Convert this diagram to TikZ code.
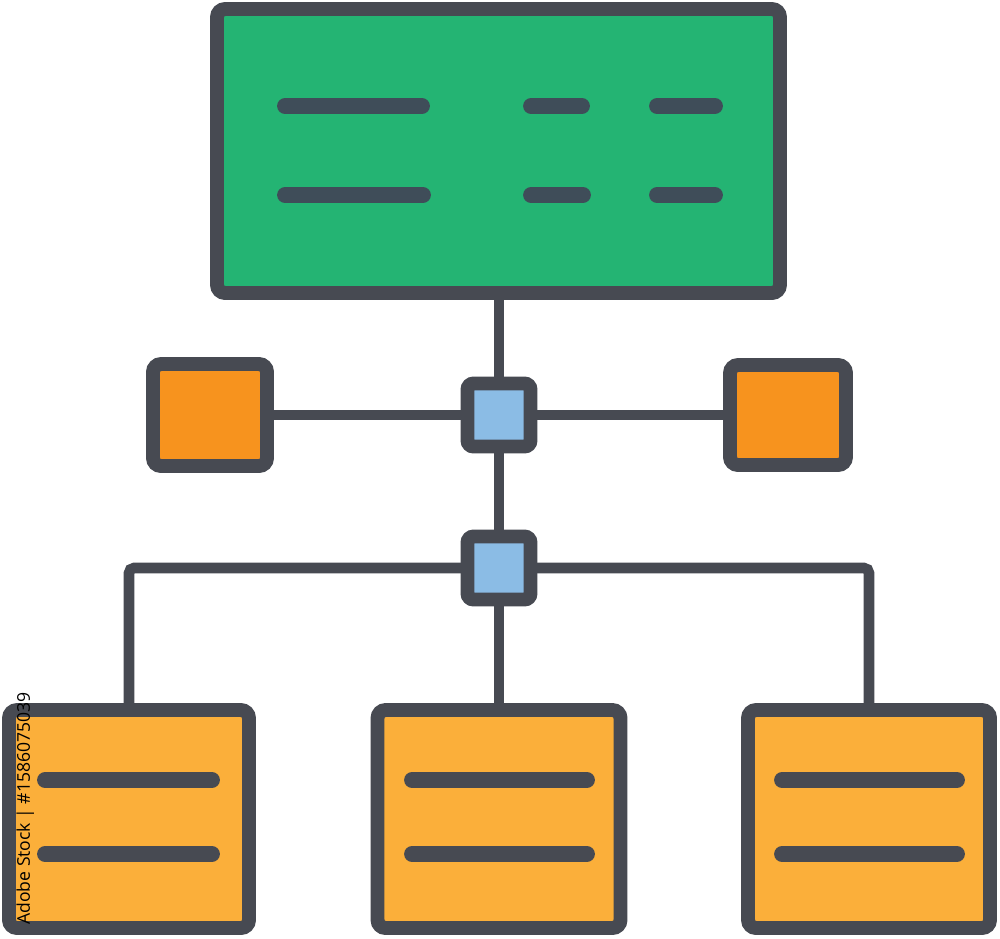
\documentclass[tikz,border=0pt]{standalone}
\usepackage{fontspec}
\newfontfamily\idfont{Open Sans}
\usetikzlibrary{backgrounds}
\definecolor{edge}{HTML}{474A52}
\definecolor{greenfill}{HTML}{24B473}
\definecolor{bluefill}{HTML}{8BBCE5}
\definecolor{orangefill}{HTML}{F7931E}
\definecolor{yellowfill}{HTML}{FBAF3A}
\definecolor{bar}{HTML}{3F4D59}
\tikzset{
  box/.style={draw=edge, line width=7.9pt, rounded corners=0.16cm, inner sep=0pt, outer sep=0pt},
  mainbox/.style={box, fill=greenfill, minimum width=11.26cm, minimum height=5.68cm},
  hubbox/.style={box, fill=bluefill, minimum width=1.26cm, minimum height=1.26cm, rounded corners=0.12cm},
  sidebox/.style={box, fill=orangefill, minimum height=2.04cm},
  leafbox/.style={box, fill=yellowfill, minimum height=4.36cm},
  link/.style={draw=edge, line width=6pt},
  barline/.style={draw=bar, line width=9pt, line cap=round},
  leafbar/.style={draw=edge, line width=9pt, line cap=round}
}
\begin{document}
\begin{tikzpicture}[x=0.02cm, y=-0.02cm]
\useasboundingbox (0,0) rectangle (1000,938);
\node[mainbox] (main) at (498.5,151) {};
\node[hubbox] (hubA) at (499,415) {};
\node[hubbox] (hubB) at (499,568) {};
\node[sidebox, minimum width=2.28cm] (sideL) at (210,415) {};
\node[sidebox, minimum width=2.32cm, minimum height=2.0cm] (sideR) at (788,415) {};
\node[leafbox, minimum width=4.8cm] (leafL) at (129,819) {};
\node[leafbox, minimum width=4.86cm] (leafM) at (499,819) {};
\node[leafbox, minimum width=4.84cm] (leafR) at (869,819) {};
\begin{scope}[on background layer]
\draw[link] (hubA.north |- main.south) -- (hubA.north);
\draw[link] (sideL.east) -- (hubA.west);
\draw[link] (hubA.east) -- (sideR.west);
\draw[link] (hubA.south) -- (hubB.north);
\draw[link, rounded corners=0.1cm] (hubB.west) -| (leafL.north);
\draw[link, rounded corners=0.1cm] (hubB.east) -| (leafR.north);
\draw[link] (hubB.south) -- (leafM.north);
\end{scope}
% bars in the main box
\draw[barline] (285,106) -- (422,106);
\draw[barline] (531,106) -- (582,106);
\draw[barline] (657,106) -- (715,106);
\draw[barline] (285,195) -- (423,195);
\draw[barline] (531,195) -- (583,195);
\draw[barline] (657,195) -- (715,195);
% bars in the leaf boxes
\draw[leafbar] (45,780) -- (212,780);
\draw[leafbar] (45,854) -- (212,854);
\draw[leafbar] (412,780) -- (587,780);
\draw[leafbar] (412,854) -- (587,854);
\draw[leafbar] (782,780) -- (957,780);
\draw[leafbar] (782,854) -- (957,854);
\node[rotate=90, anchor=base west, inner sep=0pt, text=black] (stockid) at (30,925) {\idfont\fontsize{10pt}{12pt}\selectfont Adobe Stock | \#1586075039};
\end{tikzpicture}
\end{document}
